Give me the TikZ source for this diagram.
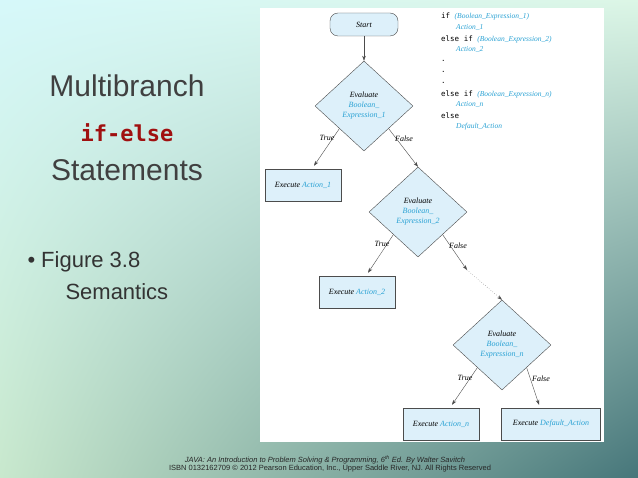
\documentclass[tikz,border=0pt]{standalone}
\usepackage{fontspec}
\setmainfont{Liberation Serif}
\setsansfont{Liberation Sans}
\setmonofont{DejaVu Sans Mono}
\usetikzlibrary{shapes.geometric,calc,arrows.meta,shadings}
\definecolor{fillb}{HTML}{DDF0FA}
\definecolor{txtb}{HTML}{2AA2D4}
\definecolor{kwred}{HTML}{A01010}
\definecolor{bgul}{RGB}{214,248,250}
\definecolor{bgur}{RGB}{220,246,230}
\definecolor{bgll}{RGB}{200,232,205}
\definecolor{bglr}{RGB}{70,118,122}
\begin{document}
\begin{tikzpicture}[x=1pt,y=-1pt,
  dia/.style={draw=black!70,fill=fillb,diamond,minimum width=98pt,minimum height=90pt,inner sep=0pt,align=center,font=\fontsize{8}{10}\selectfont\itshape},
  box/.style={draw=black!70,fill=fillb,minimum width=76pt,minimum height=32pt,inner sep=1pt,font=\fontsize{8}{10}\selectfont\itshape},
  arr/.style={draw=black!70,-{Stealth[length=5pt,width=3.5pt]}},
  lbl/.style={font=\fontsize{8}{10}\selectfont\itshape},
  code/.style={anchor=west,inner sep=0pt,font=\fontsize{7.5}{9}\selectfont\ttfamily}]
\useasboundingbox (0,0) rectangle (638,478);
\shade[upper left=bgul,upper right=bgur,lower left=bgll,lower right=bglr] (0,0) rectangle (638,478);
\fill[white] (260,8) rectangle (604,442);
% left titles
\node[font=\sffamily\fontsize{30}{34}\selectfont,text=black!75] (t1) at (127,86) {Multibranch};
\node[font=\ttfamily\bfseries\fontsize{22}{26}\selectfont,text=kwred] (t2) at (127,133) {if-else};
\node[font=\sffamily\fontsize{30}{34}\selectfont,text=black!75] (t3) at (127,170) {Statements};
\node[font=\sffamily\fontsize{22}{26}\selectfont,text=black!80,anchor=west] (b1) at (24,262) {•\hspace{6pt}Figure 3.8};
\node[font=\sffamily\fontsize{22}{26}\selectfont,text=black!80,anchor=west] (b2) at (62,292) {Semantics};
% footer
\node[font=\sffamily\itshape\fontsize{7.5}{9}\selectfont,text=black!85] (f1) at (325,460) {JAVA: An Introduction to Problem Solving \& Programming, 6\textsuperscript{th} Ed. By Walter Savitch};
\node[font=\sffamily\fontsize{7.5}{9}\selectfont,text=black!85] (f2) at (330,469) {ISBN 0132162709 © 2012 Pearson Education, Inc., Upper Saddle River, NJ. All Rights Reserved};
% flowchart
\node[draw=black!70,fill=fillb,rounded corners=8pt,minimum width=68pt,minimum height=23pt,font=\fontsize{8}{10}\selectfont\itshape] (start) at (364,24.5) {Start};
\node[dia] (d1) at (364,106) {Evaluate\\\textcolor{txtb}{Boolean\_}\\\textcolor{txtb}{Expression\_1}};
\node[box] (a1) at (303,185) {Execute \textcolor{txtb}{Action\_1}};
\node[dia] (d2) at (418,212) {Evaluate\\\textcolor{txtb}{Boolean\_}\\\textcolor{txtb}{Expression\_2}};
\node[box] (a2) at (357,292) {Execute \textcolor{txtb}{Action\_2}};
\node[dia] (dn) at (502,345) {Evaluate\\\textcolor{txtb}{Boolean\_}\\\textcolor{txtb}{Expression\_n}};
\node[box] (an) at (441,424) {Execute \textcolor{txtb}{Action\_n}};
\node[box,minimum width=99pt] (ad) at (551,424) {Execute \textcolor{txtb}{Default\_Action}};
\draw[arr] (start) -- (d1);
\draw[arr] ($(d1.west)!0.5!(d1.south)$) -- ($(a1.north)+(11,-3)$);
\draw[arr] ($(d1.east)!0.5!(d1.south)$) -- (d2.north);
\draw[arr] ($(d2.west)!0.5!(d2.south)$) -- ($(a2.north)+(11,-3)$);
\coordinate (mid) at (467,270);
\draw[arr] ($(d2.east)!0.5!(d2.south)$) -- (mid);
\draw[arr,dotted] (mid) -- (dn.north);
\draw[arr] ($(dn.west)!0.5!(dn.south)$) -- ($(an.north)+(11,-3)$);
\draw[arr] ($(dn.east)!0.5!(dn.south)$) -- ($(ad.north)+(-12,-3)$);
\node[lbl] (l1) at (327,138) {True};
\node[lbl] (l2) at (404,139) {False};
\node[lbl] (l3) at (382,244) {True};
\node[lbl] (l4) at (458,246) {False};
\node[lbl] (l5) at (465,378) {True};
\node[lbl] (l6) at (541,379) {False};
% code
\node[code] (c1) at (441,16) {if \textnormal{\color{txtb}\itshape(Boolean\_Expression\_1)}};
\node[code] (c2) at (456,28) {\textnormal{\color{txtb}\itshape Action\_1}};
\node[code] (c3) at (441,39) {else if \textnormal{\color{txtb}\itshape(Boolean\_Expression\_2)}};
\node[code] (c4) at (456,50) {\textnormal{\color{txtb}\itshape Action\_2}};
\node[code] (c5) at (441,61) {.};
\node[code] (c6) at (441,72) {.};
\node[code] (c7) at (441,83) {.};
\node[code] (c8) at (441,94) {else if \textnormal{\color{txtb}\itshape(Boolean\_Expression\_n)}};
\node[code] (c9) at (456,105) {\textnormal{\color{txtb}\itshape Action\_n}};
\node[code] (c10) at (441,116) {else};
\node[code] (c11) at (456,127) {\textnormal{\color{txtb}\itshape Default\_Action}};
\end{tikzpicture}
\end{document}
